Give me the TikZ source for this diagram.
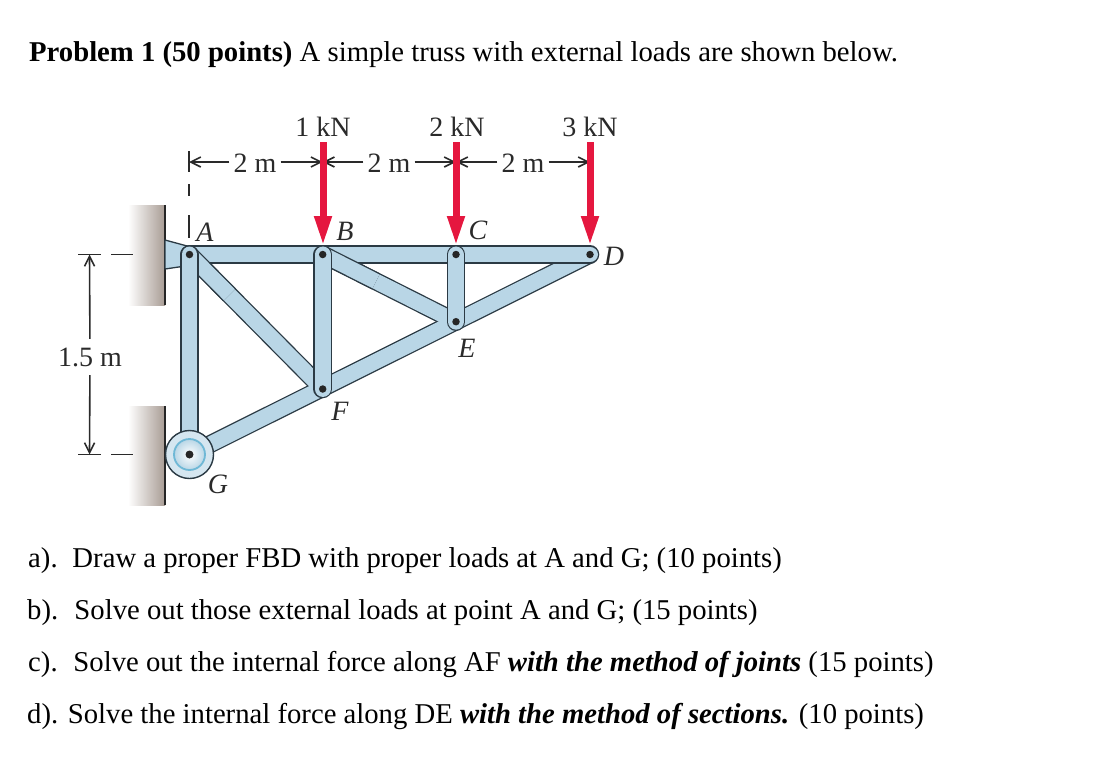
\documentclass[tikz,border=0pt]{standalone}
\usepackage{fontspec}
\setmainfont{Liberation Serif}
\usetikzlibrary{arrows.meta,shadings,calc}
\definecolor{memblue}{HTML}{B9D6E6}
\definecolor{memline}{HTML}{2B3A44}
\definecolor{loadred}{HTML}{E5173F}
\definecolor{walltone}{HTML}{A89C94}
\definecolor{dimink}{HTML}{2A2A2A}
\definecolor{ringblue}{HTML}{6FB8D6}
\tikzset{
  prose/.style={anchor=base west,inner sep=0pt,font=\fontsize{28.7}{32}\selectfont,text=black},
  joint/.style={anchor=center,inner sep=0pt,font=\fontsize{28}{30}\selectfont\itshape,text=dimink},
  dimtext/.style={anchor=center,inner xsep=4pt,inner ysep=1pt,font=\fontsize{28}{30}\selectfont,text=dimink},
  memout/.style={line width=18pt,draw=memline,line cap=butt},
  memin/.style={line width=15.4pt,draw=memblue,line cap=butt},
  linkout/.style={line width=18.5pt,draw=memline,line cap=round},
  linkin/.style={line width=15.9pt,draw=memblue,line cap=round},
  pin/.style={circle,fill=black!85,inner sep=0pt,minimum size=7.5pt},
  load/.style={draw=loadred,line width=7pt,-{Triangle[length=30pt,width=16pt]}},
  dimline/.style={draw=dimink,line width=1.6pt},
  dimarrow/.style={dimline,-{Straight Barb[length=10pt,width=10pt,line width=1.6pt]}},
  wall/.style={left color=white,right color=walltone,draw=none},
  wallface/.style={draw=black!85,line width=1.6pt},
}
\begin{document}
\begin{tikzpicture}[x=1pt,y=-1pt]
\useasboundingbox (0,0) rectangle (1118,772);
% joints
\coordinate (A) at (189.5,254.5);
\coordinate (B) at (322.7,254.5);
\coordinate (C) at (456,254.5);
\coordinate (D) at (590,254.5);
\coordinate (E) at (456,321.7);
\coordinate (F) at (322.7,389);
\coordinate (G) at (189.5,454.5);
% prose
\node[prose] (title) at (29,61) {\textbf{Problem 1 (50 points)} A simple truss with external loads are shown below.};
\node[prose] (qa) at (28,567.5) {\makebox[44.3pt][l]{a).}Draw a proper FBD with proper loads at A and G; (10 points)};
\node[prose] (qb) at (27,619.5) {\makebox[47.3pt][l]{b).}Solve out those external loads at point A and G; (15 points)};
\node[prose] (qc) at (28,671.5) {\makebox[45.3pt][l]{c).}Solve out the internal force along AF \textbf{\textit{with the method of joints}} (15 points)};
\node[prose] (qd) at (27,723) {\makebox[40.7pt][l]{d).}Solve the internal force along DE \textbf{\textit{with the method of sections.}} (10 points)};
% walls
\shade[wall] (128,205) rectangle (165,305);
\shade[wall] (128,406) rectangle (165,505);
\coordinate (wt1) at (165,205); \coordinate (wt2) at (165,305);
\coordinate (wb1) at (165,406); \coordinate (wb2) at (165,505);
\draw[wallface] (wt1) -- (wt2);
\draw[wallface] (wb1) -- (wb2);
% gusset at A
\draw[fill=memblue,draw=memline,line width=1.3pt] (165,240) -- (189,246.5) -- (189,265.5) -- (165,269) -- cycle;
% lower chord and diagonals merge where they meet
\draw[memout] (G) -- (D);
\draw[memout] (A) -- (F);
\draw[memout] (B) -- (E);
\draw[memin] (G) -- (D);
\draw[memin] (A) -- (F);
\draw[memin] (B) -- (E);
% top chord
\draw[linkout] (A) -- (D);
\draw[linkin] (A) -- (D);
% diagonals pass over the top chord
\coordinate (af) at ($(A)!0.3!(F)$);
\coordinate (be) at ($(B)!0.4!(E)$);
\draw[memout] (A) -- (af);
\draw[memin] (A) -- (af);
\draw[memout] (B) -- (be);
\draw[memin] (B) -- (be);
% vertical links
\draw[linkout] (A) -- (G);
\draw[linkin] (A) -- (G);
\draw[linkout] (B) -- (F);
\draw[linkin] (B) -- (F);
\draw[linkout] (C) -- (E);
\draw[linkin] (C) -- (E);
% pins
\node[pin] (pA) at (A) {};
\node[pin] (pB) at (B) {};
\node[pin] (pC) at (C) {};
\node[pin] (pD) at (D) {};
\node[pin] (pE) at (E) {};
\node[pin] (pF) at (F) {};
% support at G
\node[circle,minimum size=48pt,inner sep=0pt,draw=memline,line width=1.4pt,fill=memblue!60] (gdisk) at (G) {};
\node[circle,minimum size=31pt,inner sep=0pt,draw=ringblue,line width=1.8pt,inner color=white,outer color=memblue] (gring) at (G) {};
\node[pin,minimum size=8pt] (pG) at (G) {};
% joint labels
\node[joint] (lA) at (205,232) {A};
\node[joint] (lB) at (345,231) {B};
\node[joint] (lC) at (478,230) {C};
\node[joint] (lD) at (614,256) {D};
\node[joint] (lE) at (467,348) {E};
\node[joint] (lF) at (340,411) {F};
\node[joint] (lG) at (218,484) {G};
% loads
\node[dimtext] (k1) at (323,127) {1 kN};
\node[dimtext] (k2) at (457,127) {2 kN};
\node[dimtext] (k3) at (590,127) {3 kN};
% horizontal dimensions
\coordinate (h0) at (189,162); \coordinate (h1) at (322.7,162);
\coordinate (h2) at (456,162); \coordinate (h3) at (590,162);
\node[dimtext] (m1) at (255,163) {2 m};
\node[dimtext] (m2) at (389,163) {2 m};
\node[dimtext] (m3) at (523,163) {2 m};
\draw[dimarrow] (m1.west |- h0) -- (h0);
\draw[dimarrow] (m1.east |- h0) -- (h1);
\draw[dimarrow] (m2.west |- h0) -- (h1);
\draw[dimarrow] (m2.east |- h0) -- (h2);
\draw[dimarrow] (m3.west |- h0) -- (h2);
\draw[dimarrow] (m3.east |- h0) -- (h3);
% load arrows over the dimension line
\coordinate (t1) at (323,142); \coordinate (t2) at (456,142); \coordinate (t3) at (590,142);
\coordinate (e1) at (323,246); \coordinate (e2) at (456,246); \coordinate (e3) at (590,246);
\draw[load] (t1) -- (e1);
\draw[load] (t2) -- (e2);
\draw[load] (t3) -- (e3);
% witness lines
\coordinate (w1) at (189,151); \coordinate (w2) at (189,172);
\coordinate (w3) at (189,184); \coordinate (w4) at (189,196);
\coordinate (w5) at (189,215); \coordinate (w6) at (189,238);
\draw[dimline] (w1) -- (w2);
\draw[dimline] (w3) -- (w4);
\draw[dimline] (w5) -- (w6);
% vertical dimension
\coordinate (v0) at (89.5,254.5); \coordinate (v1) at (89.5,454.5);
\node[dimtext,minimum height=36pt] (m4) at (90,357) {1.5 m};
\draw[dimarrow] (m4) -- (v0);
\draw[dimarrow] (m4) -- (v1);
\coordinate (ta1) at (78,254.5); \coordinate (ta2) at (101,254.5);
\coordinate (ta3) at (111,254.5); \coordinate (ta4) at (133,254.5);
\coordinate (tb1) at (78,454.5); \coordinate (tb2) at (101,454.5);
\coordinate (tb3) at (111,454.5); \coordinate (tb4) at (133,454.5);
\draw[dimline] (ta1) -- (ta2);
\draw[dimline] (ta3) -- (ta4);
\draw[dimline] (tb1) -- (tb2);
\draw[dimline] (tb3) -- (tb4);
\end{tikzpicture}
\end{document}
